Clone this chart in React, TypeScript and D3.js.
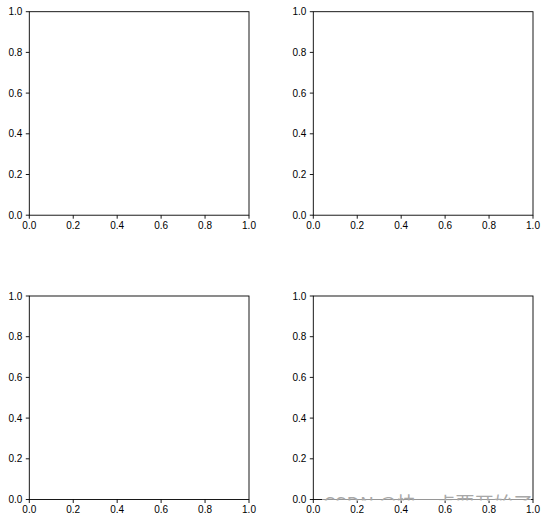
import React from "react";
import * as d3 from "d3";

const tickValues: number[] = [0, 0.2, 0.4, 0.6, 0.8, 1.0];
const tickLabels: string[] = ["0.0", "0.2", "0.4", "0.6", "0.8", "1.0"];
const panelIds: string[] = ["ax1", "ax2", "ax3", "ax4"];
const watermarkText = "CSDN @快一点要开始了";

const W = 546;
const H = 522;
const colLeft = [29.3, 313.3];
const rowTop = [11.7, 296];
const axW = 219.7;
const axH = 203.5;
const FONT = "'Liberation Sans', 'DejaVu Sans', sans-serif";

function Panel({ x0, y0 }: { x0: number; y0: number }) {
  const xs = d3.scaleLinear().domain([0, 1]).range([x0, x0 + axW]);
  const ys = d3.scaleLinear().domain([0, 1]).range([y0 + axH, y0]);
  return (
    <g>
      <rect x={x0} y={y0} width={axW} height={axH} fill="none" stroke="#000" strokeWidth={0.9} />
      {tickValues.map((v, i) => (
        <g key={"x" + i}>
          <line x1={xs(v)} x2={xs(v)} y1={y0 + axH} y2={y0 + axH + 3.5} stroke="#000" strokeWidth={0.9} />
          <text x={xs(v)} y={y0 + axH + 13.5} textAnchor="middle" fontSize={10} fontFamily={FONT} fill="#000">
            {tickLabels[i]}
          </text>
        </g>
      ))}
      {tickValues.map((v, i) => (
        <g key={"y" + i}>
          <line x1={x0 - 3.5} x2={x0} y1={ys(v)} y2={ys(v)} stroke="#000" strokeWidth={0.9} />
          <text x={x0 - 7} y={ys(v) + 3.6} textAnchor="end" fontSize={10} fontFamily={FONT} fill="#000">
            {tickLabels[i]}
          </text>
        </g>
      ))}
    </g>
  );
}

export default function App() {
  return (
    <svg
      width={W}
      height={H}
      viewBox={`0 0 ${W} ${H}`}
      style={{ position: "absolute", left: 0, top: 0, background: "#fff" }}
    >
      <rect x={0} y={0} width={W} height={H} fill="#fff" />
      {panelIds.map((id, i) => (
        <Panel key={id} x0={colLeft[i % 2]} y0={rowTop[Math.floor(i / 2)]} />
      ))}
      <defs>
        <clipPath id="wm">
          <rect x={318} y={490} width={216} height={10.5} />
        </clipPath>
      </defs>
      <rect x={322} y={498} width={209} height={3} fill="#fff" opacity={0.55} />
      <g clipPath="url(#wm)">
        <text
          x={323}
          y={511}
          fontSize={19}
          fontFamily="'Noto Sans CJK SC', sans-serif"
          fill="#a8a8a8"
          textLength={210}
          lengthAdjust="spacingAndGlyphs"
        >
          {watermarkText}
        </text>
      </g>
    </svg>
  );
}
